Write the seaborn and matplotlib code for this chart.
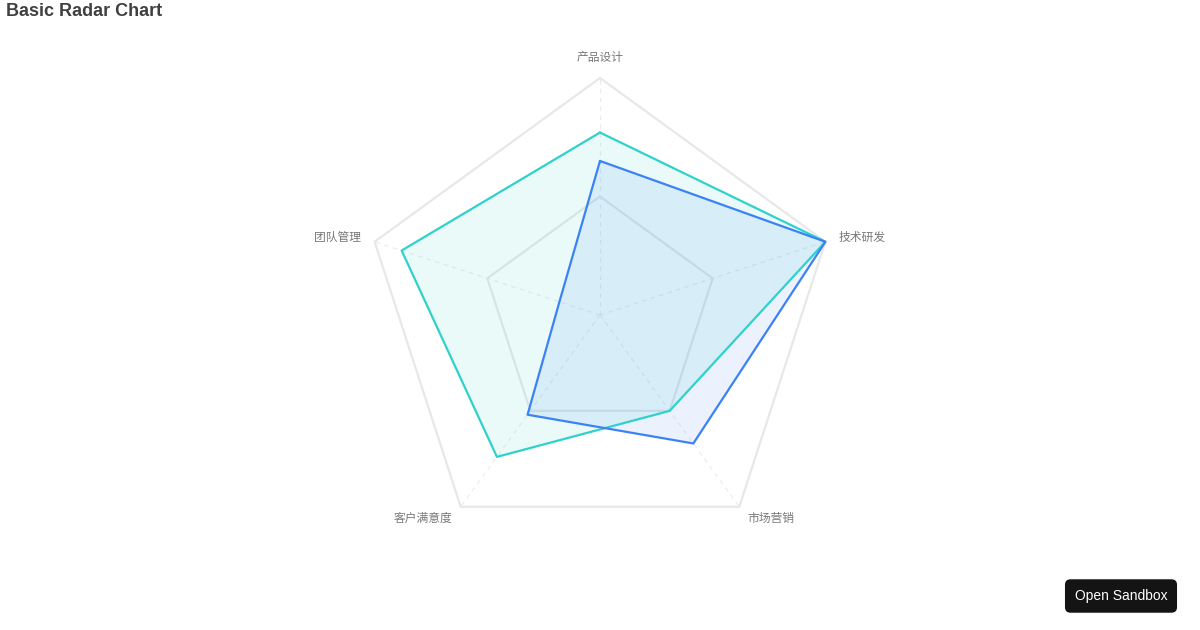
import numpy as np
import pandas as pd
import seaborn as sns
import matplotlib.pyplot as plt

# du lieu doc tu hinh (thang 0-100)
chi_tieu = ['产品设计', '技术研发', '市场营销', '客户满意度', '团队管理']
ten_chuoi = ['团队 A', '团队 B']
gia_tri_a = [77, 100, 50, 74, 88]
gia_tri_b = [65, 100, 67, 52, 18]
vach_luoi = [50, 100]

mau_a = '#2fd2cb'
mau_b = '#3b82f6'

sns.set_theme(style='white')
plt.rcParams['font.family'] = ['Noto Sans CJK SC', 'DejaVu Sans']

fig = plt.figure(figsize=(12, 6.3), dpi=100)
ax = fig.add_axes([0, 0, 1, 1])
# 1 don vi = 2.37 px, tam o (600, 315)
don_vi = 2.37
ax.set_xlim(-600 / don_vi, 600 / don_vi)
ax.set_ylim(-315 / don_vi, 315 / don_vi)
ax.axis('off')

n = len(chi_tieu)
goc = np.deg2rad(90 - 72 * np.arange(n))


def toa_do(r):
    r = np.asarray(r, dtype=float)
    x = r * np.cos(goc)
    y = r * np.sin(goc)
    return np.append(x, x[0]), np.append(y, y[0])


# luoi da giac va tia
for muc in vach_luoi:
    gx, gy = toa_do([muc] * n)
    ax.plot(gx, gy, color='#e8e8e8', lw=1.6, zorder=1)
for g in goc:
    ax.plot([0, 100 * np.cos(g)], [0, 100 * np.sin(g)], color='#ebebeb',
            lw=0.8, ls=(0, (4, 4)), zorder=1)

# hai chuoi du lieu
for gia_tri, mau, ten in [(gia_tri_a, mau_a, ten_chuoi[0]), (gia_tri_b, mau_b, ten_chuoi[1])]:
    x, y = toa_do(gia_tri)
    ax.fill(x, y, color=mau, alpha=0.1, lw=0, zorder=2)
    df = pd.DataFrame({'x': x, 'y': y})
    sns.lineplot(data=df, x='x', y='y', sort=False, estimator=None,
                 color=mau, lw=1.6, ax=ax, zorder=3)

# nhan truc
for ten, g in zip(chi_tieu, goc):
    cx, cy = 106 * np.cos(g), 106 * np.sin(g)
    if np.cos(g) > 0.1:
        ha, va = 'left', 'center'
    elif np.cos(g) < -0.1:
        ha, va = 'right', 'center'
    else:
        ha, va = 'center', 'bottom'
    ax.text(cx, cy, ten, ha=ha, va=va, fontsize=8.5, color='#777777')

ax.set_xlabel('')
ax.set_ylabel('')

fig.text(6 / 1200, 1 - 12 / 630, 'Basic Radar Chart', ha='left', va='center',
         fontsize=13, fontweight='bold', color='#404040', family=['Liberation Sans', 'DejaVu Sans'])

fig.text(1121 / 1200, 1 - 596 / 630, 'Open Sandbox', ha='center', va='center',
         fontsize=10, color='white', family=['Liberation Sans', 'DejaVu Sans'],
         bbox=dict(boxstyle='round,pad=0.7,rounding_size=0.4', fc='#141414', ec='none'))

fig.savefig('out.png', dpi=100, facecolor='white')
